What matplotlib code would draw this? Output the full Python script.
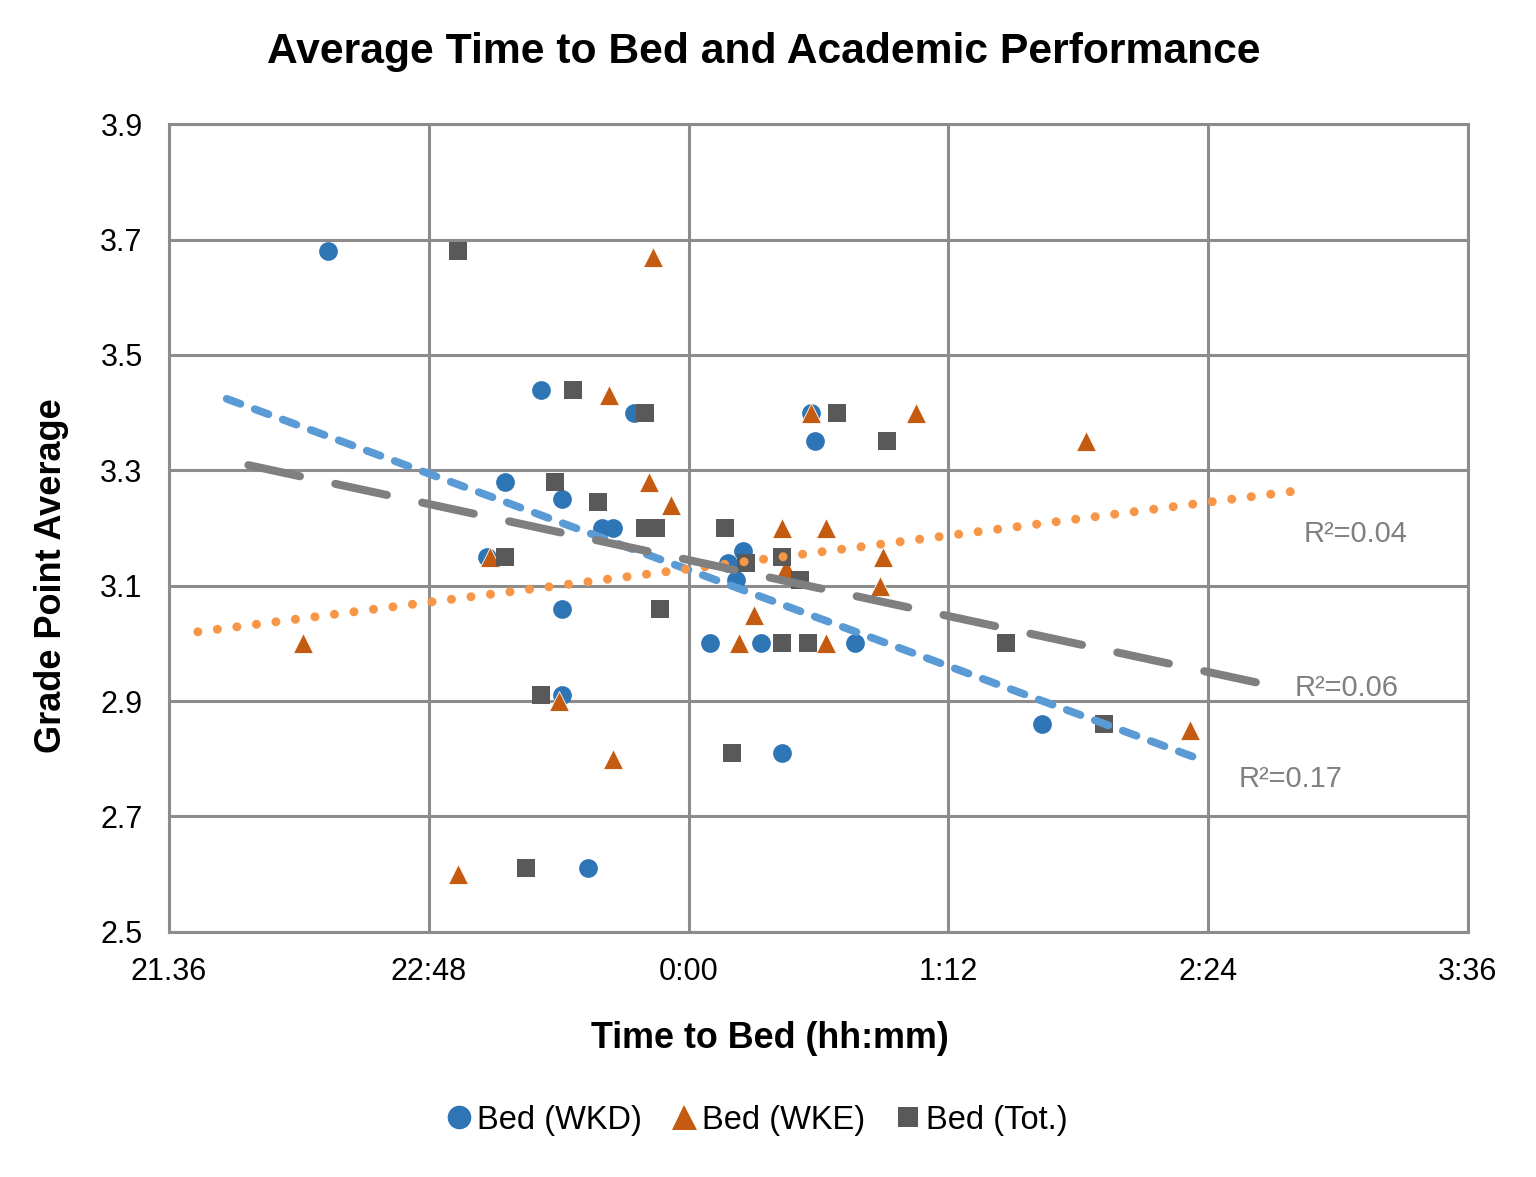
import matplotlib
matplotlib.use("Agg")
import matplotlib.pyplot as plt
from matplotlib.lines import Line2D

plt.rcParams['font.family'] = ['Liberation Sans', 'DejaVu Sans']
plt.rcParams['lines.scale_dashes'] = False

# ---------------- data ----------------
wkd_time = ["22:20", "23:19", "23:45", "23:09", "23:25", "23:36", "23:39", "23:04",
            "23:25", "23:25", "23:32", "0:06", "0:34", "0:35", "0:15", "0:11",
            "0:13", "0:20", "0:46", "0:26", "1:38"]
wkd_gpa = [3.68, 3.44, 3.40, 3.28, 3.25, 3.20, 3.20, 3.15,
           3.06, 2.91, 2.61, 3.00, 3.40, 3.35, 3.16, 3.14,
           3.11, 3.00, 3.00, 2.81, 2.86]

wke_time = ["22:13", "22:56", "23:05", "23:24", "23:38", "23:39", "23:50", "23:49",
            "23:55", "0:34", "1:03", "1:50", "2:19", "0:26", "0:38", "0:27",
            "0:18", "0:14", "0:38", "0:54", "0:53"]
wke_gpa = [3.00, 2.60, 3.15, 2.90, 3.43, 2.80, 3.67, 3.28,
           3.24, 3.40, 3.40, 3.35, 2.85, 3.20, 3.20, 3.13,
           3.05, 3.00, 3.00, 3.15, 3.10]

tot_time = ["22:56", "23:28", "23:48", "23:23", "23:35", "23:48", "23:51", "23:09",
            "23:52", "0:10", "0:16", "0:26", "0:31", "0:26", "0:33", "0:41",
            "0:55", "1:28", "1:55", "23:19", "23:15", "0:12"]
tot_gpa = [3.68, 3.44, 3.40, 3.28, 3.245, 3.20, 3.20, 3.15,
           3.06, 3.20, 3.14, 3.15, 3.11, 3.00, 3.00, 3.40,
           3.35, 3.00, 2.86, 2.91, 2.61, 2.81]

# linear trendlines (start/end) and R^2
trend_wkd_time = ["21:52", "2:23"]
trend_wkd_gpa = [3.424, 2.796]
trend_wke_time = ["21:44", "2:48"]
trend_wke_gpa = [3.020, 3.264]
trend_tot_time = ["21:58", "2:39"]
trend_tot_gpa = [3.309, 2.930]
r2_labels = ["R\u00b2=0.04", "R\u00b2=0.06", "R\u00b2=0.17"]

x_tick_labels = ["21.36", "22:48", "0:00", "1:12", "2:24", "3:36"]
y_ticks = [2.5, 2.7, 2.9, 3.1, 3.3, 3.5, 3.7, 3.9]


def to_hours(s):
    h, m = s.split(":")
    v = int(h) + int(m) / 60.0
    if v < 12:
        v += 24
    return v


def conv(lst):
    return [to_hours(s) for s in lst]


# ---------------- figure ----------------
W, H = 1536, 1177
fig = plt.figure(figsize=(W / 100, H / 100), dpi=100)
ax = fig.add_axes([169 / W, 1 - 931.7 / H, (1468 - 169) / W, (931.7 - 124.3) / H])

grid_c = '#8c8c8c'
ax.set_xlim(21.6, 27.6)
ax.set_ylim(2.5, 3.9)
x_ticks = [21.6 + 1.2 * i for i in range(len(x_tick_labels))]
ax.set_xticks(x_ticks)
ax.set_xticklabels(x_tick_labels)
ax.set_yticks(y_ticks)
ax.set_yticklabels([f"{v:.1f}" for v in y_ticks])
ax.tick_params(axis='both', length=0, labelsize=22, colors='black')
ax.tick_params(axis='y', pad=19)
ax.tick_params(axis='x', pad=18)
ax.grid(True, color=grid_c, linewidth=2.2, zorder=0)
ax.set_axisbelow(True)
for sp in ax.spines.values():
    sp.set_color(grid_c)
    sp.set_linewidth(2.2)

c_wkd = '#2e75b6'
c_wke = '#c55a11'
c_tot = '#595959'

ax.plot(conv(wkd_time), wkd_gpa, linestyle='none', marker='o', ms=13.5,
        color=c_wkd, mew=0, zorder=3)
ax.plot(conv(wke_time), wke_gpa, linestyle='none', marker='^', ms=15,
        color=c_wke, mec='white', mew=0.6, zorder=3)
ax.plot(conv(tot_time), tot_gpa, linestyle='none', marker='s', ms=12.5,
        color=c_tot, mew=0, zorder=3)

ax.plot(conv(trend_wkd_time), trend_wkd_gpa, color='#5b9bd5', lw=5.6,
        dashes=(10.5, 11), dash_capstyle='round', zorder=4)
ax.plot(conv(trend_wke_time), trend_wke_gpa, color='#f79646', lw=6.5,
        dashes=(0.01, 14.15), dash_capstyle='round', zorder=4)
ax.plot(conv(trend_tot_time), trend_tot_gpa, color='#7f7f7f', lw=5.8,
        dashes=(38, 26), dash_capstyle='round', zorder=4)

r2_pos = [(26.843, 3.190), (26.801, 2.923), (26.542, 2.765)]
for (x, y), lab in zip(r2_pos, r2_labels):
    ax.text(x, y, lab, fontsize=21, color='#808080', ha='left', va='center', zorder=5)

fig.text(764 / W, 1 - 52 / H, "Average Time to Bed and Academic Performance",
         fontsize=30.7, fontweight='bold', ha='center', va='center')
fig.text(770 / W, 1 - 1038 / H, "Time to Bed (hh:mm)", fontsize=25.8,
         fontweight='bold', ha='center', va='center')
fig.text(52 / W, 1 - 576 / H, "Grade Point Average", fontsize=26,
         fontweight='bold', ha='center', va='center', rotation=90)

handles = [
    Line2D([], [], linestyle='none', marker='o', ms=17, color=c_wkd, mew=0),
    Line2D([], [], linestyle='none', marker='^', ms=18, color=c_wke, mew=0),
    Line2D([], [], linestyle='none', marker='s', ms=15, color=c_tot, mew=0),
]
fig.legend(handles, ["Bed (WKD)", "Bed (WKE)", "Bed (Tot.)"], loc='center',
           bbox_to_anchor=(755 / W, 1 - 1120 / H), ncol=3, frameon=False,
           fontsize=23.5, handletextpad=0.05, columnspacing=0.8, handlelength=1.0)

fig.savefig("out.png", dpi=100)
